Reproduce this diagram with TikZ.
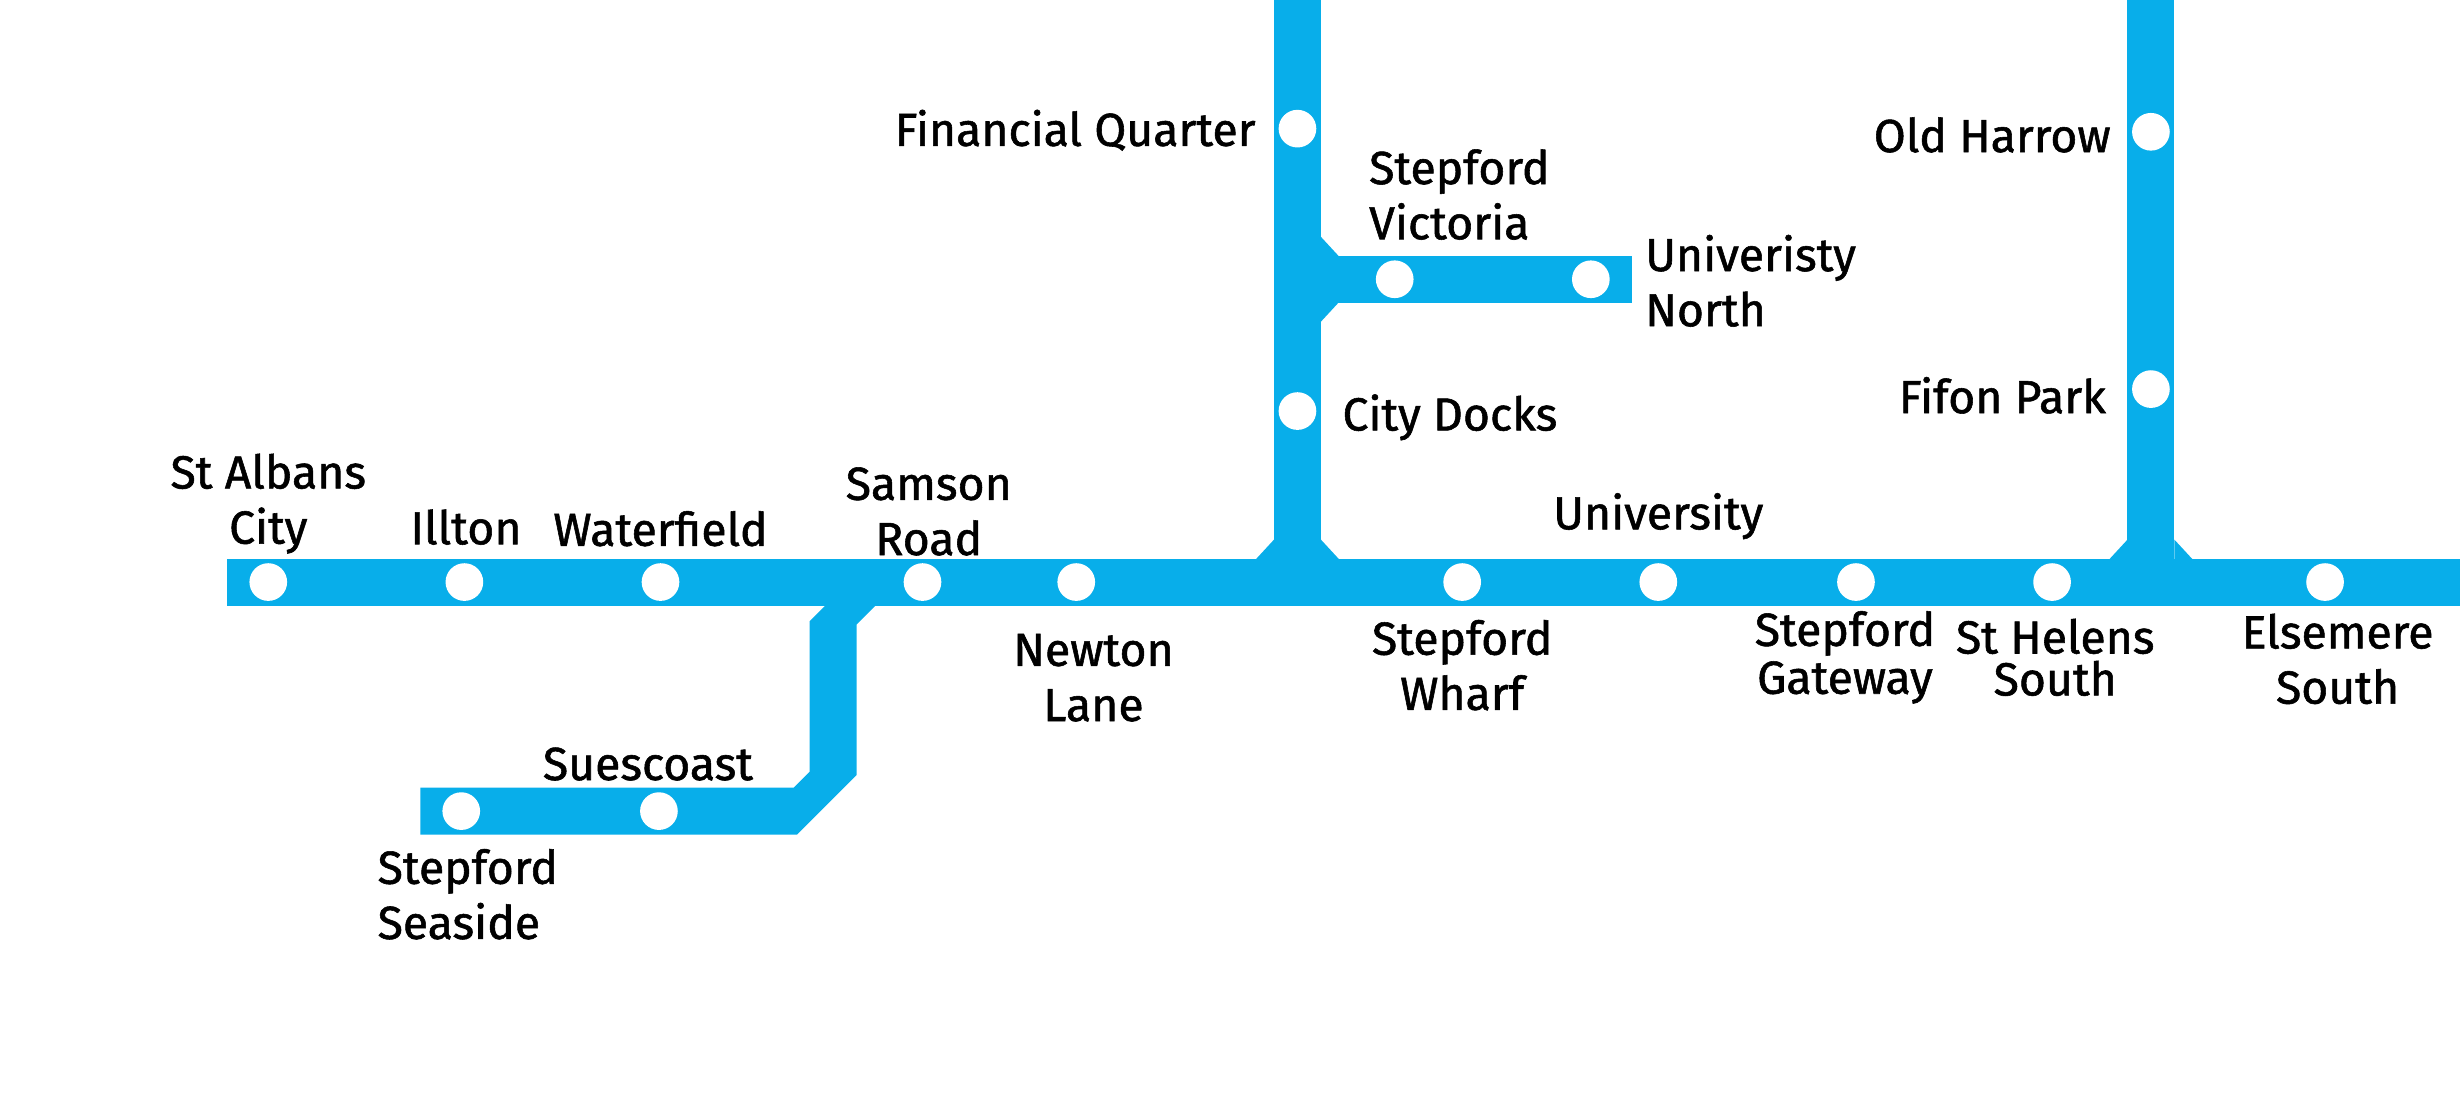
\documentclass[tikz,border=0pt]{standalone}
\usepackage{fontspec}
\setmainfont{Fira Sans}[BoldFont=Fira Sans, BoldFeatures={FakeBold=1.2}]
\definecolor{linecyan}{RGB}{8,174,234}
\tikzset{
  track/.style={draw=linecyan, line width=0.3cm},
  stop/.style={circle, fill=white, inner sep=0pt, minimum size=0.24cm},
  lbl/.style={font=\fontsize{8.4}{10}\selectfont\bfseries, inner sep=0pt, align=center},
}
\begin{document}
\begin{tikzpicture}[x=0.01cm, y=-0.01cm]
    \useasboundingbox (0,0) rectangle (1568,709);
    % the tracks
    \draw[track] (145,371) -- (1568,371);
    \draw[track] (827,0) -- (827,356);
    \draw[track] (1371,0) -- (1371,356);
    \draw[track] (842,178) -- (1040,178);
    \fill[linecyan] (268,502) -- (506,502) -- (516,492) -- (516,396) -- (526,386) -- (558,386) -- (546,398) -- (546,494) -- (508,532) -- (268,532) -- cycle;
    % chamfers at the junctions
    \fill[linecyan] (800,357) -- (812,344) -- (812,357) -- cycle;
    \fill[linecyan] (842,344) -- (854,357) -- (842,357) -- cycle;
    \fill[linecyan] (1344,357) -- (1356,344) -- (1356,357) -- cycle;
    \fill[linecyan] (1386,344) -- (1398,357) -- (1386,357) -- cycle;
    \fill[linecyan] (842,151) -- (854,164) -- (842,164) -- cycle;
    \fill[linecyan] (842,205) -- (854,192) -- (842,192) -- cycle;

    % the stations
    \foreach \name/\x in {stalbans/171, illton/296, waterfield/421, samson/588, newton/686, wharf/932, university/1057, gateway/1183, sthelens/1308, elsemere/1482}
        \node[stop] (\name) at (\x,371) {};
    \node[stop] (financial) at (827,82) {};
    \node[stop] (docks) at (827,262) {};
    \node[stop] (victoria) at (889,178) {};
    \node[stop] (uninorth) at (1014,178) {};
    \node[stop] (seaside) at (294,517) {};
    \node[stop] (suescoast) at (420,517) {};
    \node[stop] (harrow) at (1371,84) {};
    \node[stop] (fifon) at (1371,248) {};

    % the names
    \node[lbl] (stalbansL) at (171,321) {St Albans\\City};
    \node[lbl] (illtonL) at (297,336) {Illton};
    \node[lbl] (waterfieldL) at (421,337) {Waterfield};
    \node[lbl] (samsonL) at (592,326) {Samson\\Road};
    \node[lbl] (newtonL) at (697,432) {Newton\\Lane};
    \node[lbl, anchor=east] (financialL) at (801,83) {Financial Quarter};
    \node[lbl, anchor=west, align=left] (victoriaL) at (872,124) {Stepford\\Victoria};
    \node[lbl, anchor=west, align=left] (uninorthL) at (1048,179) {Univeristy\\North};
    \node[lbl, anchor=west] (docksL) at (855,266) {City Docks};
    \node[lbl] (wharfL) at (932,424) {Stepford\\Wharf};
    \node[lbl] (universityL) at (1057,329) {University};
    \node[lbl, font=\fontsize{8.4}{7.6}\selectfont\bfseries] (gatewayL) at (1176,419) {Stepford\\Gateway};
    \node[lbl, font=\fontsize{8.4}{7.6}\selectfont\bfseries] (sthelensL) at (1310,419) {St Helens\\South};
    \node[lbl] (elsemereL) at (1490,420) {Elsemere\\South};
    \node[lbl, anchor=east] (harrowL) at (1346,86) {Old Harrow};
    \node[lbl, anchor=east] (fifonL) at (1343,252) {Fifon Park};
    \node[lbl] (suescoastL) at (413,487) {Suescoast};
    \node[lbl, anchor=west, align=left] (seasideL) at (240,570) {Stepford\\Seaside};
\end{tikzpicture}
\end{document}
